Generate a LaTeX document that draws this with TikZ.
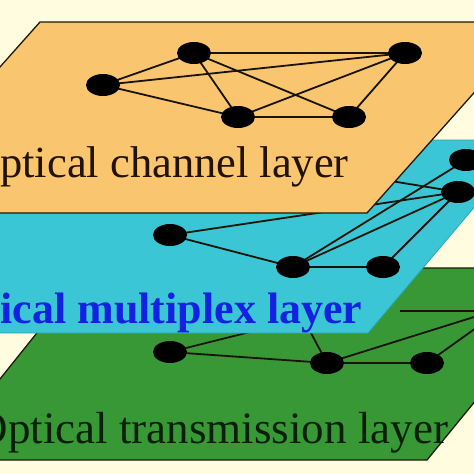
\documentclass[tikz,border=0pt]{standalone}
\usepackage{fontspec}
\setmainfont{Liberation Serif}
\usetikzlibrary{shapes.geometric}
\definecolor{bgc}{HTML}{FFFCE0}
\definecolor{orangec}{HTML}{F9C56F}
\definecolor{cyanc}{HTML}{3AC6D4}
\definecolor{cyanedge}{HTML}{2AA6B2}
\definecolor{greenc}{HTML}{389836}
\definecolor{edgec}{HTML}{1E1A08}
\definecolor{linec}{HTML}{1A1408}
\definecolor{orangetxt}{HTML}{221200}
\definecolor{bluetxt}{HTML}{1222E0}
\definecolor{greentxt}{HTML}{0A1E0A}
\begin{document}
\begin{tikzpicture}[x=1pt,y=-1pt,
  dot/.style={ellipse, fill=black, minimum width=34pt, minimum height=22pt, inner sep=0pt},
  link/.style={line width=1.8pt, draw=linec},
  plane/.style={draw=edgec, line width=1.3pt, line join=miter},
  lbl/.style={anchor=base west, inner sep=0pt}]
\useasboundingbox (0,0) rectangle (474,474);
\clip (0,0) rectangle (474,474);
\fill[bgc] (0,0) rectangle (474,474);

% ---------- green layer ----------
\filldraw[plane, fill=greenc] (89,268) -- (584,268) -- (427,460) -- (-65,460) -- cycle;
\coordinate (K) at (170,352);
\coordinate (L) at (327,363);
\coordinate (M) at (427,363);
\coordinate (kh) at (290,322);
\coordinate (lh) at (304,320);
\coordinate (lr) at (490,312);
\coordinate (mr) at (490,318);
\coordinate (hs) at (400,311);
\coordinate (he) at (490,311);
\draw[link] (K) -- (L);
\draw[link] (L) -- (M);
\draw[link] (K) -- (kh);
\draw[link] (L) -- (lh);
\draw[link] (L) -- (lr);
\draw[link] (M) -- (mr);
\draw[link] (hs) -- (he);
\node[dot] (Kd) at (K) {};
\node[dot] (Ld) at (L) {};
\node[dot] (Md) at (M) {};
\node[lbl, text=greentxt, font=\fontsize{45}{50}\selectfont] (tgreen) at (-24.5,443) {Optical transmission layer};

% ---------- cyan layer ----------
\filldraw[plane, draw=cyanedge, line width=0.8pt, fill=cyanc] (0,140) -- (531,140) -- (368,333) -- (-162,333) -- cycle;
\coordinate (F) at (170,235);
\coordinate (G) at (293,267);
\coordinate (H) at (383,267);
\coordinate (I) at (466,160);
\coordinate (J) at (458,192);
\coordinate (jh) at (330,171);
\draw[link] (F) -- (J);
\draw[link] (F) -- (G);
\draw[link] (G) -- (H);
\draw[link] (G) -- (I);
\draw[link] (G) -- (J);
\draw[link] (H) -- (J);
\draw[link] (jh) -- (J);
\node[dot] (Fd) at (F) {};
\node[dot] (Gd) at (G) {};
\node[dot] (Hd) at (H) {};
\node[dot] (Id) at (I) {};
\node[dot] (Jd) at (J) {};
\node[lbl, text=bluetxt, font=\bfseries\fontsize{44}{50}\selectfont] (tblue) at (-73,323) {Optical multiplex layer};

% ---------- orange layer ----------
\filldraw[plane, fill=orangec] (40,22) -- (537,22) -- (367,213) -- (-130,213) -- cycle;
\coordinate (A) at (103,85);
\coordinate (B) at (194,53);
\coordinate (C) at (405,53);
\coordinate (D) at (238,117);
\coordinate (E) at (349,117);
\draw[link] (A) -- (B);
\draw[link] (A) -- (C);
\draw[link] (A) -- (D);
\draw[link] (B) -- (C);
\draw[link] (B) -- (D);
\draw[link] (B) -- (E);
\draw[link] (C) -- (D);
\draw[link] (C) -- (E);
\draw[link] (D) -- (E);
\node[dot] (Ad) at (A) {};
\node[dot] (Bd) at (B) {};
\node[dot] (Cd) at (C) {};
\node[dot] (Dd) at (D) {};
\node[dot] (Ed) at (E) {};
\node[lbl, text=orangetxt, font=\fontsize{44.5}{50}\selectfont] (torange) at (-32,177) {Optical channel layer};
\end{tikzpicture}
\end{document}
